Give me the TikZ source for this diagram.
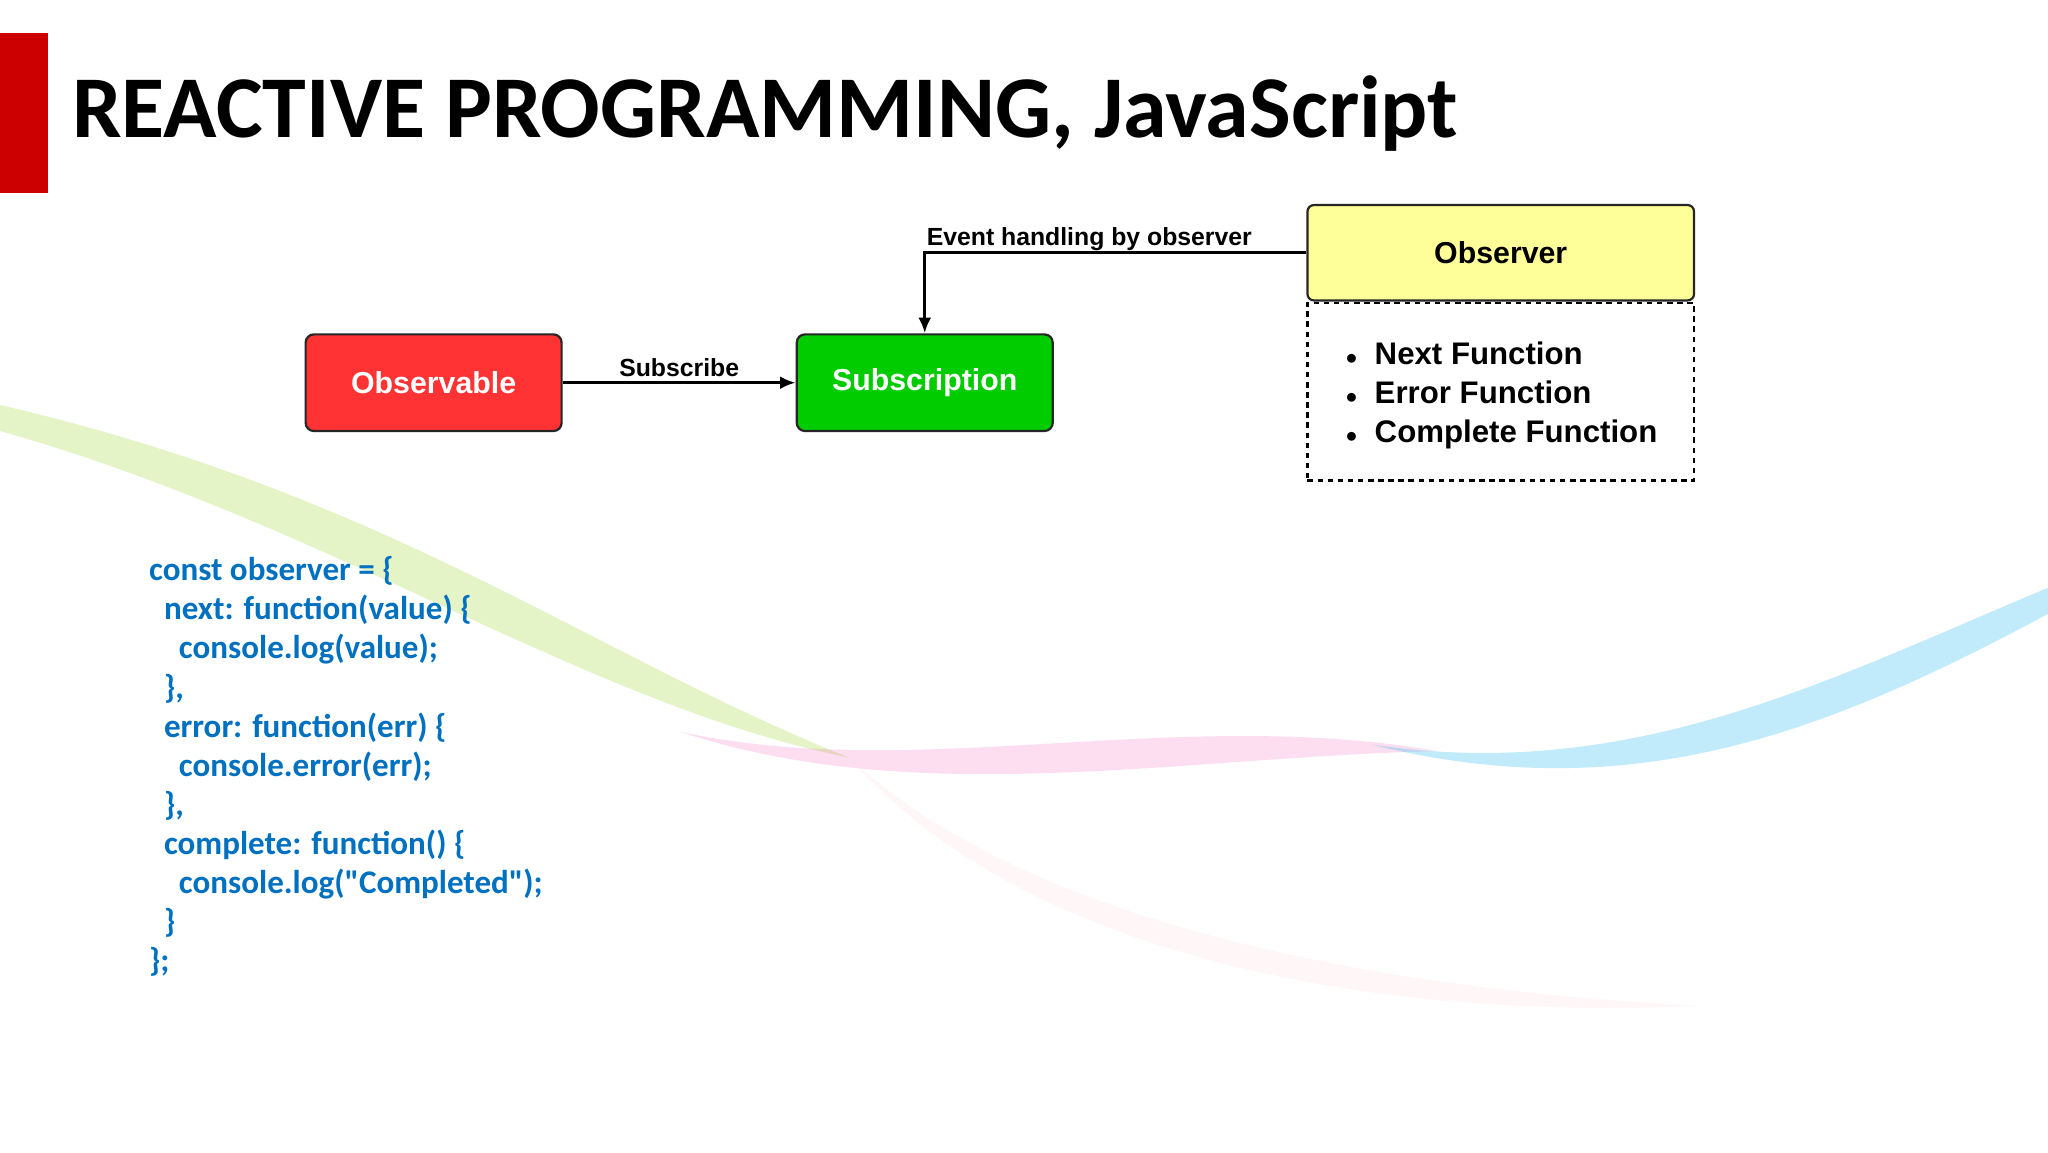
\documentclass[tikz,border=0pt]{standalone}
\usepackage{fontspec}
\usetikzlibrary{arrows.meta}
\setmainfont{Liberation Sans}
\newfontfamily\calfont{Carlito}
\definecolor{codeblue}{RGB}{0,112,192}
\definecolor{obsred}{RGB}{255,51,51}
\definecolor{subgreen}{RGB}{0,204,0}
\definecolor{obsyellow}{RGB}{255,255,153}
\begin{document}
\begin{tikzpicture}[x=0.05cm,y=-0.05cm,
  box/.style={draw=black!85,line width=2.4pt,rounded corners=9pt,minimum width=196*0.05cm,minimum height=74*0.05cm,font=\fontsize{33}{38}\selectfont\bfseries},
  lbl/.style={font=\fontsize{27}{32}\selectfont\bfseries},
  conn/.style={line width=3pt,-{Latex[length=17pt,width=14pt]}},
  code/.style={font=\calfont\fontsize{36}{42.6}\selectfont\bfseries,text=codeblue,align=left,anchor=north west,inner sep=0}]
\useasboundingbox (0,0) rectangle (1568,882);
\fill[white] (0,0) rectangle (1568,882);
% faint swooshes
\fill[yellow!60!green,opacity=0.25] (0,310) .. controls (300,380) and (450,500) .. (650,580) .. controls (450,540) and (250,400) .. (0,330) -- cycle;
\fill[magenta!70,opacity=0.18] (520,560) .. controls (700,600) and (900,540) .. (1100,575) .. controls (900,580) and (700,620) .. (520,560) -- cycle;
\fill[cyan!80,opacity=0.3] (1050,570) .. controls (1250,600) and (1400,520) .. (1568,450) -- (1568,470) .. controls (1400,560) and (1250,620) .. (1050,570) -- cycle;
\fill[pink!60,opacity=0.2] (650,580) .. controls (800,720) and (1100,760) .. (1300,770) .. controls (1100,780) and (800,750) .. (650,580) -- cycle;
% title
\fill[red!80!black] (0,25) rectangle (37,148);
\node[anchor=base west,inner sep=0,font=\calfont\fontsize{96}{100}\selectfont\bfseries] (title) at (55,105) {REACTIVE PROGRAMMING, JavaScript};
% nodes
\node[box,fill=obsred,text=white] (obs) at (332,293) {Observable};
\node[box,fill=subgreen,text=white] (sub) at (708,293) {Subscription};
\node[box,fill=obsyellow,minimum width=296*0.05cm,minimum height=73*0.05cm,rounded corners=7pt] (obsr) at (1149,193.5) {Observer};
\node[draw,dash pattern=on 6pt off 5pt,line width=3pt,minimum width=296*0.05cm,minimum height=136*0.05cm,anchor=north,inner sep=0] (list) at (obsr.south) {};
\node[anchor=west,align=left,font=\fontsize{34}{42.6}\selectfont\bfseries] (items) at (1028,303) {$\bullet$\ \ Next Function\\$\bullet$\ \ Error Function\\$\bullet$\ \ Complete Function};
% connectors
\coordinate (corner) at (sub.north |- obsr.west);
\draw[conn] (obs) -- node[lbl,above=2pt] {Subscribe} (sub);
\draw[conn] (obsr.west) -- (corner) -- (sub.north);
\node[lbl,anchor=south west,inner sep=2pt] (evt) at (corner) {Event handling by observer};
% code
\node[code] (code) at (114,426) {const observer = \{\\
\ \ next: function(value) \{\\
\ \ \ \ console.log(value);\\
\ \ \},\\
\ \ error: function(err) \{\\
\ \ \ \ console.error(err);\\
\ \ \},\\
\ \ complete: function() \{\\
\ \ \ \ console.log("Completed");\\
\ \ \}\\
\};};
\end{tikzpicture}
\end{document}
